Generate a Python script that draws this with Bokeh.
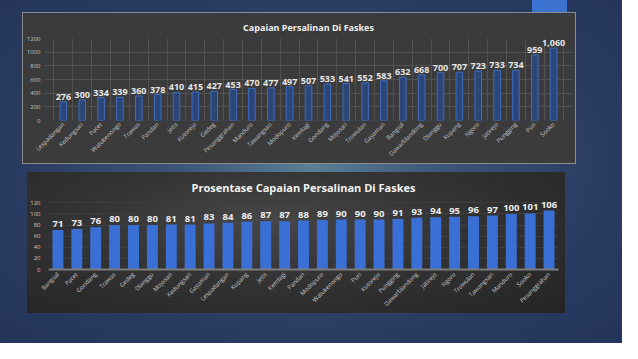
from math import pi
from bokeh.plotting import figure
from bokeh.models import ColumnDataSource, LabelSet, FixedTicker, Spacer, FactorRange
from bokeh.layouts import column, row
from bokeh.core.properties import value
from bokeh.embed import file_html
from bokeh.resources import INLINE

# ---- data: chart 1 (counts) ----
top_cats = ["Lespadangan", "Kedungsari", "Pacet", "Watukenongo", "Trawas", "Pandan",
            "Jetis", "Kutorejo", "Gedeg", "Pesanggrahan", "Manduro", "Tawangsari",
            "Modopuro", "Kemlagi", "Gondang", "Mojosari", "Trowulan", "Gayaman",
            "Bangsal", "Dawarblandong", "Dlanggu", "Kupang", "Ngoro", "Jatirejo",
            "Pungging", "Puri", "Sooko"]
top_vals = [276, 300, 334, 339, 360, 378, 410, 415, 427, 453, 470, 477, 497, 507,
            533, 541, 552, 583, 632, 668, 700, 707, 723, 733, 734, 959, 1060]
top_ticks = [0, 200, 400, 600, 800, 1000, 1200]

# ---- data: chart 2 (percent) ----
bot_cats = ["Bangsal", "Pacet", "Gondang", "Trawas", "Gedeg", "Dlanggu", "Mojosari",
            "Kedungsari", "Gayaman", "Lespadangan", "Kupang", "Jetis", "Kemlagi",
            "Pandan", "Modopuro", "Watukenongo", "Puri", "Kutorejo", "Pungging",
            "Dawarblandong", "Jatirejo", "Ngoro", "Trowulan", "Tawangsari", "Manduro",
            "Sooko", "Pesanggrahan"]
bot_vals = [71, 73, 76, 80, 80, 80, 81, 81, 83, 84, 86, 87, 87, 88, 89, 90, 90, 90,
            91, 93, 94, 95, 96, 97, 100, 101, 106]
bot_ticks = [0, 20, 40, 60, 80, 100, 120]

FONT = "Open Sans"

# ---------- chart 1 ----------
src1 = ColumnDataSource(dict(cat=top_cats, val=top_vals,
                             lab=[f"{v:,}" for v in top_vals]))
xr1 = FactorRange(factors=top_cats, range_padding=0.5, range_padding_units="absolute")
p1 = figure(x_range=xr1, y_range=(0, 1200), width=552, height=150,
            output_backend="svg", toolbar_location=None,
            min_border_left=18, min_border_right=3, min_border_top=23,
            min_border_bottom=41)
p1.background_fill_color = "#3b3b3b"
p1.border_fill_color = "#3b3b3b"
p1.outline_line_color = None
p1.styles = {"outline": "1px solid #8e8e8e"}
p1.vbar(x="cat", top="val", source=src1, width=0.35,
        fill_color="#2c4677", line_color="#3f6cc0", line_width=1)
p1.add_layout(LabelSet(x="cat", y="val", text="lab", source=src1, y_offset=2,
                       text_align="center", text_baseline="bottom",
                       text_font=value(FONT), text_font_size="9px", text_font_style="bold",
                       text_color="#e6e6e6"))
p1.title.text = "Capaian Persalinan Di Faskes"
p1.title.align = "center"
p1.title.text_color = "#f0f0f0"
p1.title.text_font = FONT
p1.title.text_font_size = "9px"
p1.title.text_font_style = "bold"
p1.yaxis.ticker = FixedTicker(ticks=top_ticks)
p1.ygrid.ticker = FixedTicker(ticks=top_ticks)
p1.xgrid.ticker = FixedTicker(ticks=list(range(0, len(top_cats) + 1)))
for g in (p1.xgrid, p1.ygrid):
    g.grid_line_color = "#525252"
    g.grid_line_width = 1
for ax in (p1.xaxis, p1.yaxis):
    ax.axis_line_color = None
    ax.major_tick_line_color = None
    ax.minor_tick_line_color = None
    ax.major_tick_out = 0
    ax.major_tick_in = 0
    ax.minor_tick_out = 0
    ax.major_label_text_font = FONT
    ax.major_label_text_font_size = "6px"
    ax.major_label_text_color = "#c4c4c4"
p1.xaxis.major_label_orientation = pi / 4
p1.xaxis.major_label_standoff = 3
p1.yaxis.major_label_standoff = 4

# ---------- chart 2 ----------
src2 = ColumnDataSource(dict(cat=bot_cats, val=bot_vals,
                             lab=[str(v) for v in bot_vals]))
p2 = figure(x_range=bot_cats, y_range=(0, 126), width=538, height=141,
            output_backend="svg", toolbar_location=None,
            min_border_left=21, min_border_right=7, min_border_top=21,
            min_border_bottom=41)
p2.background_fill_alpha = 0
p2.border_fill_alpha = 0
p2.outline_line_color = None
p2.styles = {"background": "radial-gradient(ellipse at 45% 35%, #474747 0%, #333333 45%, #242424 100%)"}
p2.vbar(x="cat", top="val", source=src2, width=0.58,
        fill_color="#3a6fd6", line_color=None)
p2.add_layout(LabelSet(x="cat", y="val", text="lab", source=src2, y_offset=3,
                       text_align="center", text_baseline="bottom",
                       text_font=value(FONT), text_font_size="9.5px", text_font_style="bold",
                       text_color="#eeeeee"))
p2.title.text = "Prosentase Capaian Persalinan Di Faskes"
p2.title.align = "center"
p2.title.text_color = "#f2f2f2"
p2.title.text_font = FONT
p2.title.text_font_size = "11px"
p2.title.text_font_style = "bold"
p2.yaxis.ticker = FixedTicker(ticks=bot_ticks)
p2.ygrid.ticker = FixedTicker(ticks=bot_ticks)
p2.xgrid.grid_line_color = None
p2.ygrid.grid_line_color = "#3e3e3e"
p2.xaxis.axis_line_color = "#7d7d7d"
p2.xaxis.axis_line_width = 2
p2.yaxis.axis_line_color = None
for ax in (p2.xaxis, p2.yaxis):
    ax.major_tick_line_color = None
    ax.minor_tick_line_color = None
    ax.major_tick_out = 0
    ax.major_tick_in = 0
    ax.minor_tick_out = 0
    ax.major_label_text_font = FONT
    ax.major_label_text_font_size = "6px"
    ax.major_label_text_color = "#c8c8c8"
p2.xaxis.major_label_orientation = pi / 4
p2.xaxis.major_label_standoff = 4
p2.yaxis.major_label_standoff = 8

# ---------- slide layout ----------
slide = column(
    row(Spacer(width=532, height=13),
        Spacer(width=35, height=13, styles={"background": "#3d73d0"})),
    row(Spacer(width=23, height=150), p1),
    Spacer(width=10, height=9),
    row(Spacer(width=27, height=141), p2),
    width=622, height=343,
    styles={"background": "radial-gradient(ellipse at 50% 48%, #5a7f96 0%, #3b5577 30%, #2a3c62 65%, #24345a 100%)"},
)

open("out.html", "w").write(file_html(slide, INLINE))
